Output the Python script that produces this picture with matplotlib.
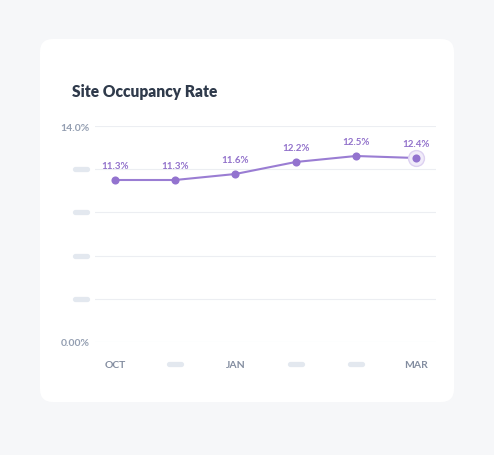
import matplotlib.pyplot as plt
from matplotlib.patches import FancyBboxPatch
from matplotlib.markers import MarkerStyle
from matplotlib.transforms import blended_transform_factory

plt.rcParams['font.family'] = ['Lato', 'DejaVu Sans']

# Data
months = ["OCT", "", "JAN", "", "", "MAR"]
occupancy = [11.3, 11.3, 11.6, 12.2, 12.5, 12.4]
y_ticks = [3.2, 5.36, 7.52, 9.68, 11.84, 14.0]
y_labels = ["0.00%", "", "", "", "", "14.0%"]

purple = "#9a7dd3"
pill_color = "#e3e8ef"

fig = plt.figure(figsize=(4.94, 4.56), dpi=100)
fig.patch.set_facecolor("#f6f7f9")

# White card with rounded corners
card = FancyBboxPatch((0.40, 0.53), 4.14, 3.63,
                      boxstyle="round,pad=0,rounding_size=0.13",
                      transform=fig.dpi_scale_trans,
                      facecolor="white", edgecolor="none", zorder=-5)
fig.patches.append(card)

fig.text(72 / 494, 1 - 92 / 456, "Site Occupancy Rate", fontsize=11.2,
         fontweight="heavy", color="#2f3a4b", va="center", ha="left")

ax = fig.add_axes([95 / 494, 113 / 456, 341 / 494, 216 / 456])
ax.set_facecolor("none")
x = list(range(len(months)))

# Line and points
ax.plot(x, occupancy, color=purple, linewidth=1.5, zorder=3)
ax.scatter(x, occupancy, s=34, color="#9373cf", zorder=4, linewidths=0)
# Halo on the last point
ax.scatter([x[-1]], [occupancy[-1]], s=130, color="#f1ecf9",
           edgecolor="#ddd1f1", linewidths=1.0, zorder=3.5)

for xi, v in zip(x, occupancy):
    ax.annotate(f"{v:.1f}%", (xi, v), xytext=(0, 7), textcoords="offset points",
                ha="center", va="bottom", fontsize=7, fontweight="bold",
                color="#9272cb")

ax.set_xlim(-0.33, 5.33)
ax.set_ylim(3.2, 14.0)
ax.set_yticks(y_ticks)
ax.set_yticklabels(y_labels)
ax.set_xticks(x)
ax.set_xticklabels(months)
ax.tick_params(axis="y", length=0, pad=4, labelsize=7.5, labelcolor="#939eb1")
ax.tick_params(axis="x", length=0, pad=13, labelsize=7.5, labelcolor="#838da0")
for lbl in ax.get_xticklabels() + ax.get_yticklabels():
    lbl.set_fontweight("bold")

ax.grid(axis="y", color="#eceef2", linewidth=0.8)
ax.grid(axis="x", visible=False)
for s in ax.spines.values():
    s.set_visible(False)

# Placeholder pills for unlabeled ticks
pill = MarkerStyle("_", capstyle="round")
ytrans = blended_transform_factory(ax.transAxes, ax.transData)
for yv, lab in zip(y_ticks, y_labels):
    if lab == "":
        ax.plot([-0.0425], [yv], marker=pill, markersize=8.6, markeredgewidth=3.8,
                color=pill_color, transform=ytrans, clip_on=False)
xtrans = blended_transform_factory(ax.transData, ax.transAxes)
for xi, lab in zip(x, months):
    if lab == "":
        ax.plot([xi], [-0.102], marker=pill, markersize=8.6, markeredgewidth=3.8,
                color=pill_color, transform=xtrans, clip_on=False)

fig.savefig("out.png", dpi=100, facecolor=fig.get_facecolor())
